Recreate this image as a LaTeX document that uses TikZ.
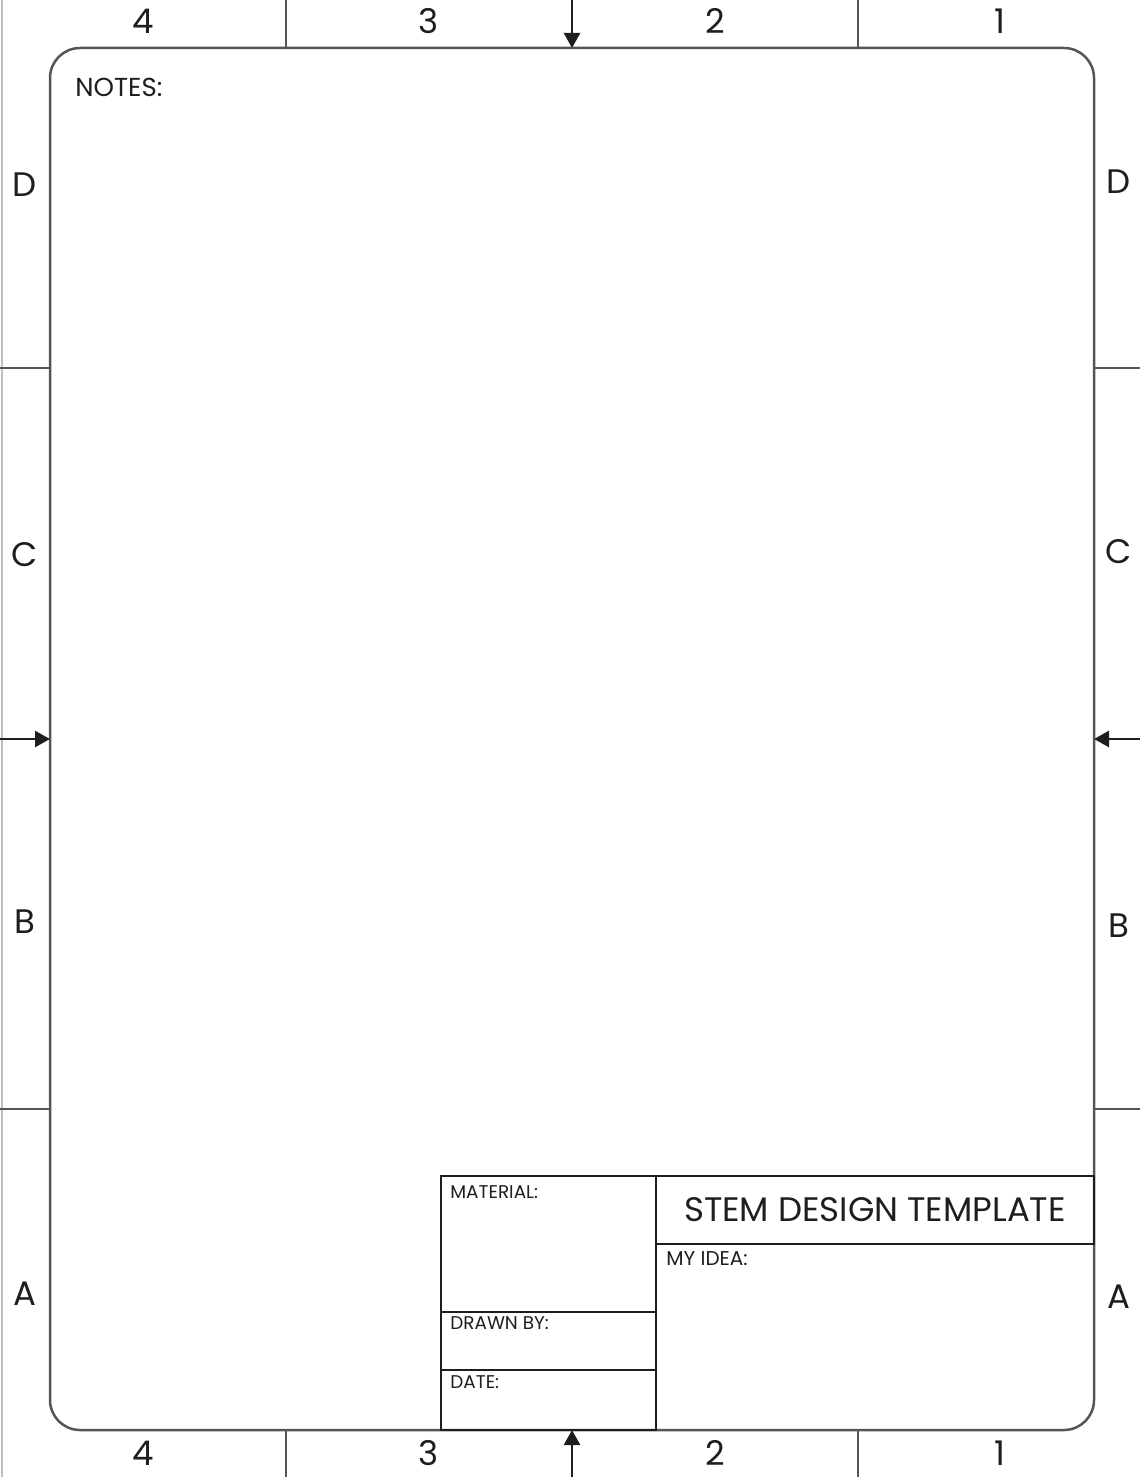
\documentclass[tikz,border=0pt]{standalone}
\usepackage{fontspec}
\setmainfont{Poppins}
\usetikzlibrary{arrows.meta}
\definecolor{edge}{HTML}{555555}
\definecolor{ink}{HTML}{1E1E1E}
\tikzset{
  frame/.style={draw=edge, line width=1.25pt},
  block/.style={draw=ink, line width=1.25pt},
  tick/.style={draw=edge, line width=1.25pt},
  tickarrow/.style={draw=ink, line width=1.25pt, -{Triangle[width=8pt,length=7.5pt]}},
  zone/.style={font=\fontsize{17}{17}\selectfont, text=ink, inner sep=0pt},
  small/.style={font=\fontsize{9.2}{9.2}\selectfont, text=ink, inner sep=0pt, anchor=north west},
}
\begin{document}
\begin{tikzpicture}[x=0.5pt, y=-0.5pt]
\useasboundingbox (0,0) rectangle (1140,1477);
\fill[white] (0,0) rectangle (1140,1477);
\draw[draw=black!25, line width=1pt] (2,0) -- (2,1477);
% main frame
\draw[frame, rounded corners=15pt] (50,48) rectangle (1094,1430);
% top ticks
\coordinate (t1) at (286,0); \coordinate (t1e) at (286,48);
\coordinate (t2) at (572,0); \coordinate (t2e) at (572,48);
\coordinate (t3) at (858,0); \coordinate (t3e) at (858,48);
\draw[tick] (t1) -- (t1e);
\draw[tickarrow] (t2) -- (t2e);
\draw[tick] (t3) -- (t3e);
% bottom ticks
\coordinate (b1) at (286,1477); \coordinate (b1e) at (286,1430);
\coordinate (b2) at (572,1477); \coordinate (b2e) at (572,1430);
\coordinate (b3) at (858,1477); \coordinate (b3e) at (858,1430);
\draw[tick] (b1) -- (b1e);
\draw[tickarrow] (b2) -- (b2e);
\draw[tick] (b3) -- (b3e);
% left ticks
\coordinate (l1) at (0,368); \coordinate (l1e) at (50,368);
\coordinate (l2) at (0,739); \coordinate (l2e) at (50,739);
\coordinate (l3) at (0,1109); \coordinate (l3e) at (50,1109);
\draw[tick] (l1) -- (l1e);
\draw[tickarrow] (l2) -- (l2e);
\draw[tick] (l3) -- (l3e);
% right ticks
\coordinate (r1) at (1140,368); \coordinate (r1e) at (1094,368);
\coordinate (r2) at (1140,739); \coordinate (r2e) at (1094,739);
\coordinate (r3) at (1140,1109); \coordinate (r3e) at (1094,1109);
\draw[tick] (r1) -- (r1e);
\draw[tickarrow] (r2) -- (r2e);
\draw[tick] (r3) -- (r3e);
% zone labels top/bottom
\node[zone] (n4t) at (143,21) {4};
\node[zone] (n3t) at (429,21) {3};
\node[zone] (n2t) at (715,21) {2};
\node[zone] (n1t) at (1000,21) {1};
\node[zone] (n4b) at (143,1453) {4};
\node[zone] (n3b) at (429,1453) {3};
\node[zone] (n2b) at (715,1453) {2};
\node[zone] (n1b) at (1000,1453) {1};
% zone labels left/right
\node[zone] (dl) at (25,185) {D};
\node[zone] (cl) at (25,555) {C};
\node[zone] (bl) at (25,922) {B};
\node[zone] (al) at (25,1294) {A};
\node[zone] (dr) at (1119,182) {D};
\node[zone] (cr) at (1119,552) {C};
\node[zone] (br) at (1119,926) {B};
\node[zone] (ar) at (1119,1297) {A};
% notes
\node[font=\fontsize{13}{13}\selectfont, text=ink, inner sep=0pt, anchor=west] (notes) at (75,87) {NOTES:};
% title block
\draw[block] (441,1176) rectangle (656,1430);
\draw[block] (441,1312) -- (656,1312);
\draw[block] (441,1370) -- (656,1370);
\draw[block] (656,1176) rectangle (1094,1244);
\draw[block] (656,1244) -- (656,1430);
\node[small] (mat) at (450,1185) {MATERIAL:};
\node[small] (drawn) at (450,1316) {DRAWN BY:};
\node[small] (date) at (450,1375) {DATE:};
\node[small, font=\fontsize{10}{10}\selectfont] (idea) at (666,1251) {MY IDEA:};
\node[font=\fontsize{17}{17}\selectfont, text=ink, inner sep=0pt] (title) at (875,1210) {STEM DESIGN TEMPLATE};
\end{tikzpicture}
\end{document}
